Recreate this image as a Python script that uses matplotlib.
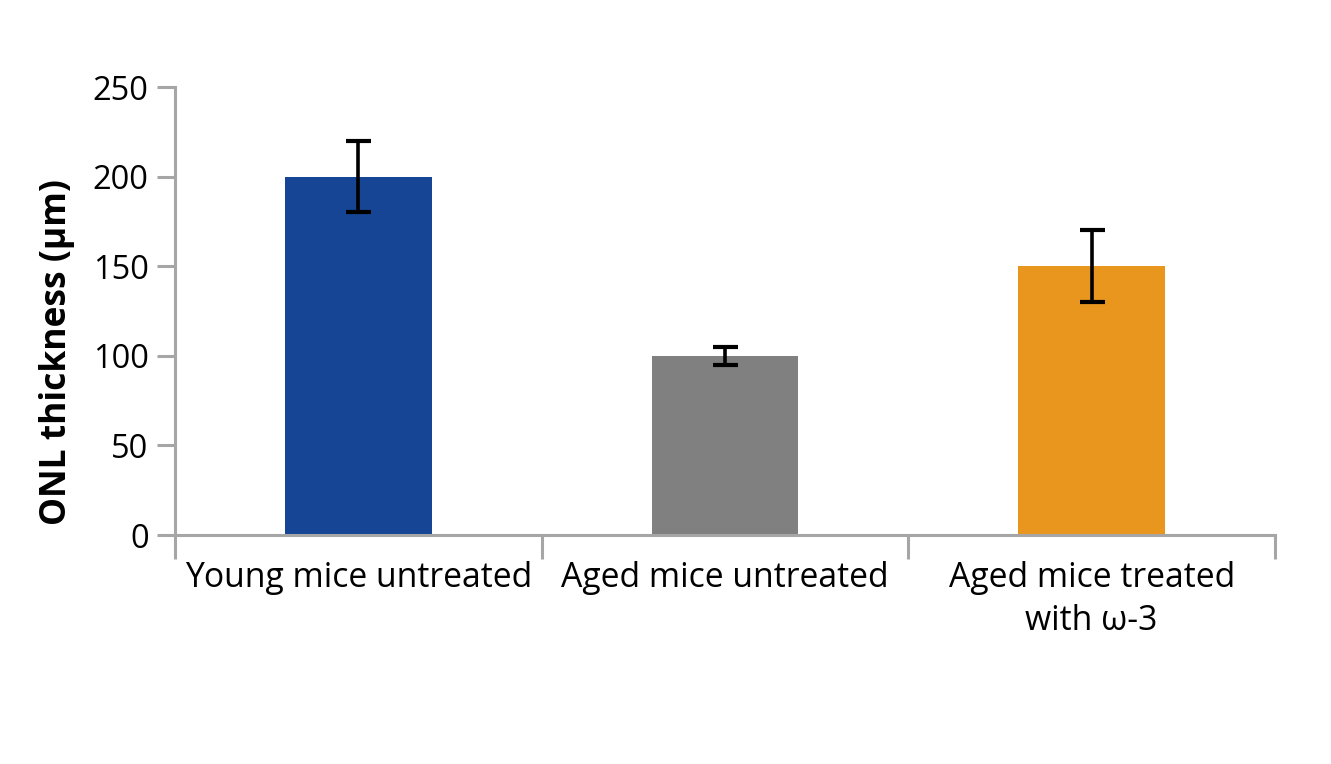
import matplotlib
matplotlib.use("Agg")
import matplotlib.pyplot as plt
import numpy as np

categories = ["Young mice untreated", "Aged mice untreated", "Aged mice treated\nwith ω-3"]
values = [200, 100, 150]
errors = [20, 5, 20]
colors = ["#154594", "#808080", "#E8961E"]
yticks = [0, 50, 100, 150, 200, 250]

plt.rcParams['font.family'] = ['Open Sans', 'DejaVu Sans']

fig = plt.figure(figsize=(13.31, 7.64), dpi=100)
ax = fig.add_axes([175/1331, 1-535/764, (1275-175)/1331, (535-87)/764])

x = np.arange(len(categories))
ax.bar(x, values, width=0.40, color=colors, zorder=2)
ax.errorbar(x, values, yerr=errors, fmt='none', ecolor='black',
            elinewidth=2.6, capsize=9, capthick=3, zorder=3)

ax.set_xlim(-0.5, 2.5)
ax.set_ylim(0, 250)
ax.set_yticks(yticks)
ax.set_yticklabels([str(v) for v in yticks])

ax.set_xticks([-0.5, 0.5, 1.5, 2.5])
ax.set_xticklabels([])
ax.set_xticks(x, minor=True)
ax.set_xticklabels(categories, minor=True, linespacing=1.32)

axis_color = "#A6A6A6"
for s in ["top", "right"]:
    ax.spines[s].set_visible(False)
for s in ["left", "bottom"]:
    ax.spines[s].set_color(axis_color)
    ax.spines[s].set_linewidth(2.2)

ax.tick_params(axis='y', which='major', length=13, width=2.2, color=axis_color,
               labelsize=23.5, pad=6)
ax.tick_params(axis='x', which='major', length=17, width=2.2, color=axis_color)
ax.tick_params(axis='x', which='minor', length=0, labelsize=24.3, pad=19)

fig.text(57/1331, 1-352/764, "ONL thickness (µm)", rotation=90, ha='center', va='center',
         fontsize=25.5, fontweight='bold')

fig.savefig("out.png", dpi=100)
